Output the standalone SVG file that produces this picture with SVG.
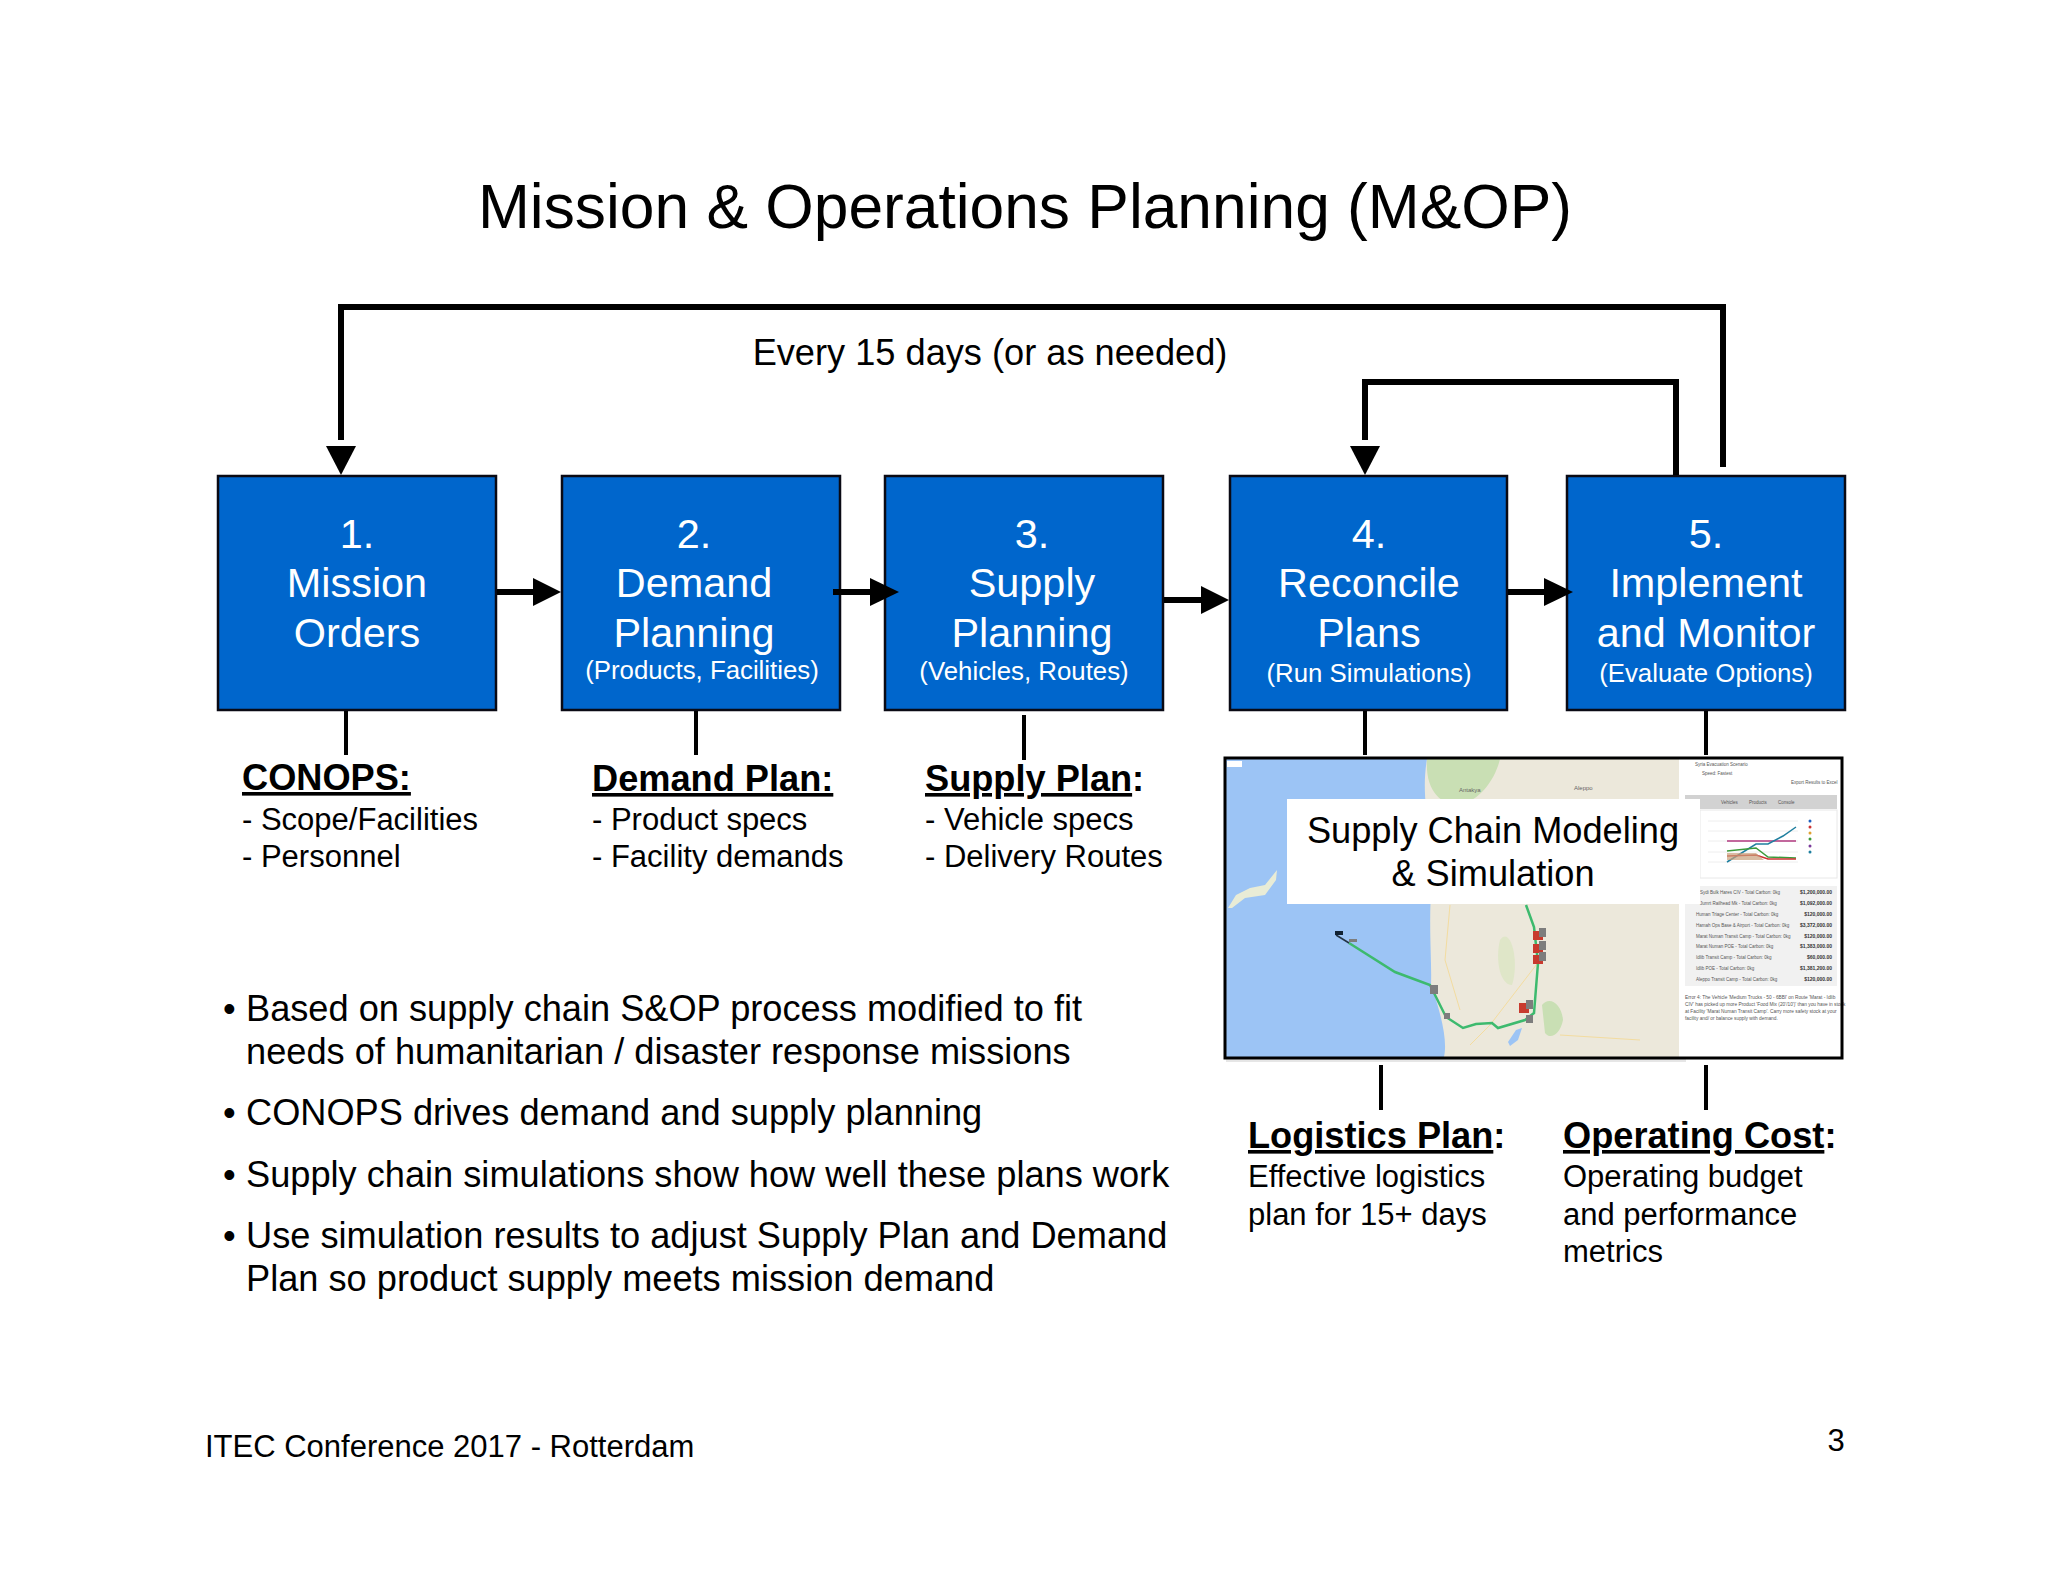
<svg xmlns="http://www.w3.org/2000/svg" width="2048" height="1582" viewBox="0 0 2048 1582">
<style>
text{font-family:"Liberation Sans",Arial,sans-serif;fill:#000}
.n rect{fill:#0066cc;stroke:#0a0a14;stroke-width:2.5}
.n text{fill:#fff;text-anchor:middle;font-size:41.4px}
.n .s{font-size:25.8px}
.c path{fill:none;stroke:#000;stroke-width:6}
.c polygon{fill:#000}
.c .st{stroke-width:4}
.h{font-size:36.2px;font-weight:bold}
.h .ul,.ua{text-decoration:underline}
.b{font-size:31px}
.u{font-size:36.2px}
.t{font-size:4.5px;fill:#555}
.v{font-size:5px;fill:#333;text-anchor:end;font-weight:bold}
.m{font-size:4.8px;fill:#555}
.l{font-size:6px;fill:#666}
.r{fill:#c83a2e}
.g{fill:#7d7d7d}
.ln{fill:none;stroke-width:1.500}
</style>
<defs><clipPath id="mapclip"><rect x="1226" y="759" width="453" height="298"/></clipPath></defs>
<rect width="2048" height="1582" fill="#fff"/>
<text id="title" x="1025" y="228" font-size="62.300" text-anchor="middle">Mission &amp; Operations Planning (M&amp;OP)</text>
<text id="cycle" x="990" y="365" font-size="36.200" text-anchor="middle">Every 15 days (or as needed)</text>
<g class="n" id="node1"><rect x="218" y="476" width="278" height="234"/><text x="357" y="548">1.</text><text x="357" y="597">Mission</text><text x="357" y="647">Orders</text></g>
<g class="n" id="node2"><rect x="562" y="476" width="278" height="234"/><text x="694" y="548">2.</text><text x="694" y="597">Demand</text><text x="694" y="647">Planning</text><text class="s" x="702" y="679">(Products, Facilities)</text></g>
<g class="n" id="node3"><rect x="885" y="476" width="278" height="234"/><text x="1032" y="548">3.</text><text x="1032" y="597">Supply</text><text x="1032" y="647">Planning</text><text class="s" x="1024" y="680">(Vehicles, Routes)</text></g>
<g class="n" id="node4"><rect x="1230" y="476" width="277" height="234"/><text x="1369" y="548">4.</text><text x="1369" y="597">Reconcile</text><text x="1369" y="647">Plans</text><text class="s" x="1369" y="682">(Run Simulations)</text></g>
<g class="n" id="node5"><rect x="1567" y="476" width="278" height="234"/><text x="1706" y="548">5.</text><text x="1706" y="597">Implement</text><text x="1706" y="647">and Monitor</text><text class="s" x="1706" y="682">(Evaluate Options)</text></g>
<g id="plan1"><text class="h ua" x="242" y="790">CONOPS:</text><text class="b" x="242" y="830">- Scope/Facilities</text><text class="b" x="242" y="867">- Personnel</text></g>
<g id="plan2"><text class="h ua" x="592" y="791">Demand Plan:</text><text class="b" x="592" y="830">- Product specs</text><text class="b" x="592" y="867">- Facility demands</text></g>
<g id="plan3"><text class="h" x="925" y="791"><tspan class="ul">Supply Plan</tspan>:</text><text class="b" x="925" y="830">- Vehicle specs</text><text class="b" x="925" y="867">- Delivery Routes</text></g>
<g id="sim">
<rect x="1224" y="757" width="620" height="302" fill="#fff"/>
<rect x="1226" y="1059" width="460" height="3" fill="#e6e6e6"/>
<g clip-path="url(#mapclip)">
<rect x="1226" y="759" width="453" height="298" fill="#ece8db"/>
<path d="M1226 759H1427C1420 800 1432 830 1432 880C1428 920 1432 960 1431 985C1440 1010 1448 1040 1444 1057H1226Z" fill="#9cc4f5"/>
<path d="M1427 759H1500C1495 780 1480 800 1460 805C1440 805 1425 790 1427 759ZM1542 1005C1550 995 1562 1005 1563 1020C1560 1035 1550 1040 1545 1033Z" fill="#c9dfb4"/>
<path d="M1500 940C1510 925 1520 960 1512 985C1500 985 1495 960 1500 940Z" fill="#dfe6c8"/>
<path d="M1228 908L1236 895L1250 888L1265 885L1277 870L1276 880L1265 895L1245 898L1232 908Z" fill="#e9ecd6"/>
<path d="M1508 1042L1516 1030L1522 1028L1518 1040L1510 1046Z" fill="#9cc4f5"/>
<path d="M1450 905L1445 960L1460 1010M1470 1045L1490 1025L1540 960M1560 1035L1640 1040" fill="none" stroke="#f3dca0" stroke-width="1"/>
<path d="M1349 943L1395 972L1430 985L1446 1017L1463 1028L1476 1024L1492 1023L1498 1028L1525 1020L1534 1013L1538 963L1534 927L1526 905" fill="none" stroke="#3dba6e" stroke-width="2.500"/>
<path d="M1336 935L1349 943" stroke="#234" stroke-width="1.500"/>
<rect class="r" x="1533" y="931" width="10" height="9"/><rect class="r" x="1533" y="944" width="10" height="9"/><rect class="r" x="1533" y="955" width="10" height="9"/><rect class="r" x="1519" y="1003" width="10" height="10"/>
<rect class="g" x="1539" y="928" width="7" height="9"/><rect class="g" x="1539" y="941" width="7" height="9"/><rect class="g" x="1539" y="952" width="7" height="9"/><rect class="g" x="1526" y="1000" width="7" height="9"/><rect class="g" x="1349" y="939" width="8" height="3"/><rect class="g" x="1430" y="985" width="8" height="9"/><rect class="g" x="1444" y="1013" width="6" height="6"/><rect class="g" x="1526" y="1015" width="7" height="8"/>
<rect x="1335" y="931" width="8" height="4" fill="#123"/>
<text class="l" x="1459" y="792">Antakya</text><text class="l" x="1574" y="790">Aleppo</text>
</g>
<rect x="1227" y="761" width="15" height="6" fill="#fff"/>
<text x="1695" y="766" class="t">Syria Evacuation Scenario</text>
<text x="1702" y="775" class="t">Speed: Fastest</text>
<text x="1791" y="784" class="t">Export Results to Excel</text>
<rect x="1685" y="795" width="152" height="14" fill="#d2d2d2"/>
<text class="t" x="1721" y="804">Vehicles</text><text class="t" x="1749" y="804">Products</text><text class="t" x="1778" y="804">Console</text>
<rect x="1700" y="810" width="137" height="68" fill="#fff" stroke="#e8e8e8"/>
<path d="M1708 821H1798M1708 831H1798M1708 841H1798M1708 852H1798M1708 862H1798" fill="none" stroke="#eee"/>
<path class="ln" d="M1727 841H1796" stroke="#b0397f"/>
<path class="ln" d="M1727 862L1756 844L1768 844L1783 836L1796 827" stroke="#1f7f9f"/>
<path class="ln" d="M1727 851L1756 848L1768 857L1796 858" stroke="#3a9a3a"/>
<path class="ln" d="M1727 856L1756 855L1768 859L1796 859" stroke="#cc3333"/>
<path d="M1727 853H1756L1764 860H1727Z" fill="#c9a07a" opacity="0.700"/>
<circle cx="1810" cy="821" r="1.500" fill="#1f5fbf"/><circle cx="1810" cy="827" r="1.500" fill="#cc3333"/><circle cx="1810" cy="833" r="1.500" fill="#e0a030"/><circle cx="1810" cy="839" r="1.500" fill="#3a9a3a"/><circle cx="1810" cy="846" r="1.500" fill="#7a3a9a"/><circle cx="1810" cy="852" r="1.500" fill="#1f7f9f"/>
<rect x="1685" y="886" width="152" height="100" fill="#f1f1f1"/>
<text class="t" x="1700" y="894">Sydi Bulk Hares CIV - Total Carbon: 0kg</text><text class="v" x="1832" y="894">$1,200,000.00</text>
<text class="t" x="1700" y="905">Jumrt Railhead Mk - Total Carbon: 0kg</text><text class="v" x="1832" y="905">$1,092,000.00</text>
<text class="t" x="1696" y="916">Human Triage Center - Total Carbon: 0kg</text><text class="v" x="1832" y="916">$120,000.00</text>
<text class="t" x="1696" y="927">Hamah Ops Base &amp; Airport - Total Carbon: 0kg</text><text class="v" x="1832" y="927">$3,372,000.00</text>
<text class="t" x="1696" y="938">Marat Numan Transit Camp - Total Carbon: 0kg</text><text class="v" x="1832" y="938">$120,000.00</text>
<text class="t" x="1696" y="948">Marat Numan POE - Total Carbon: 0kg</text><text class="v" x="1832" y="948">$1,383,000.00</text>
<text class="t" x="1696" y="959">Idlib Transit Camp - Total Carbon: 0kg</text><text class="v" x="1832" y="959">$60,000.00</text>
<text class="t" x="1696" y="970">Idlib POE - Total Carbon: 0kg</text><text class="v" x="1832" y="970">$1,381,200.00</text>
<text class="t" x="1696" y="981">Aleppo Transit Camp - Total Carbon: 0kg</text><text class="v" x="1832" y="981">$120,000.00</text>
<text class="m" x="1685" y="999">Error 4: The Vehicle 'Medium Trucks - 50 - 6BBl' on Route 'Marat - Idlib</text>
<text class="m" x="1685" y="1006">CIV' has picked up more Product 'Food Mix (20'/10')' than you have in stock</text>
<text class="m" x="1685" y="1013">at Facility 'Marat Numan Transit Camp'. Carry more safety stock at your</text>
<text class="m" x="1685" y="1020">facility and/ or balance supply with demand.</text>
<rect x="1225" y="758" width="617" height="300" fill="none" stroke="#000" stroke-width="3"/>
<rect x="1287" y="799" width="413" height="105" fill="#fff"/>
<text x="1493" y="843" font-size="36.200" text-anchor="middle">Supply Chain Modeling</text>
<text x="1493" y="886" font-size="36.200" text-anchor="middle">&amp; Simulation</text>
</g>
<g id="plan4"><text class="h" x="1248" y="1148"><tspan class="ul">Logistics Plan</tspan>:</text><text class="b" x="1248" y="1187">Effective logistics</text><text class="b" x="1248" y="1225">plan for 15+ days</text></g>
<g id="plan5"><text class="h" x="1563" y="1148"><tspan class="ul">Operating Cost</tspan>:</text><text class="b" x="1563" y="1187">Operating budget</text><text class="b" x="1563" y="1225">and performance</text><text class="b" x="1563" y="1262">metrics</text></g>
<g id="bullets">
<text class="u" x="223" y="1021">•</text><text class="u" x="246" y="1021">Based on supply chain S&amp;OP process modified to fit</text>
<text class="u" x="246" y="1064">needs of humanitarian / disaster response missions</text>
<text class="u" x="223" y="1125">•</text><text class="u" x="246" y="1125">CONOPS drives demand and supply planning</text>
<text class="u" x="223" y="1187">•</text><text class="u" x="246" y="1187">Supply chain simulations show how well these plans work</text>
<text class="u" x="223" y="1248">•</text><text class="u" x="246" y="1248">Use simulation results to adjust Supply Plan and Demand</text>
<text class="u" x="246" y="1291">Plan so product supply meets mission demand</text>
</g>
<text id="footer" x="205" y="1457" font-size="31">ITEC Conference 2017 - Rotterdam</text>
<text id="page" x="1836" y="1451" font-size="31" text-anchor="middle">3</text>
<g class="c" id="connectors">
<path d="M341 440V307H1723V467"/>
<path d="M1365 440V382H1676V475"/>
<polygon points="326,446 356,446 341,475"/>
<polygon points="1350,446 1380,446 1365,475"/>
<path d="M497 592H535M833 592H872M1164 600H1203M1508 592H1546"/>
<polygon points="533,578 561,592 533,606"/>
<polygon points="870,578 899,592 870,606"/>
<polygon points="1201,586 1229,600 1201,614"/>
<polygon points="1544,578 1573,592 1544,606"/>
<path class="st" d="M346 711V755M696 711V755M1024 715V760M1365 711V755M1706 711V755M1381 1065V1110M1706 1065V1110"/>
</g>
</svg>
